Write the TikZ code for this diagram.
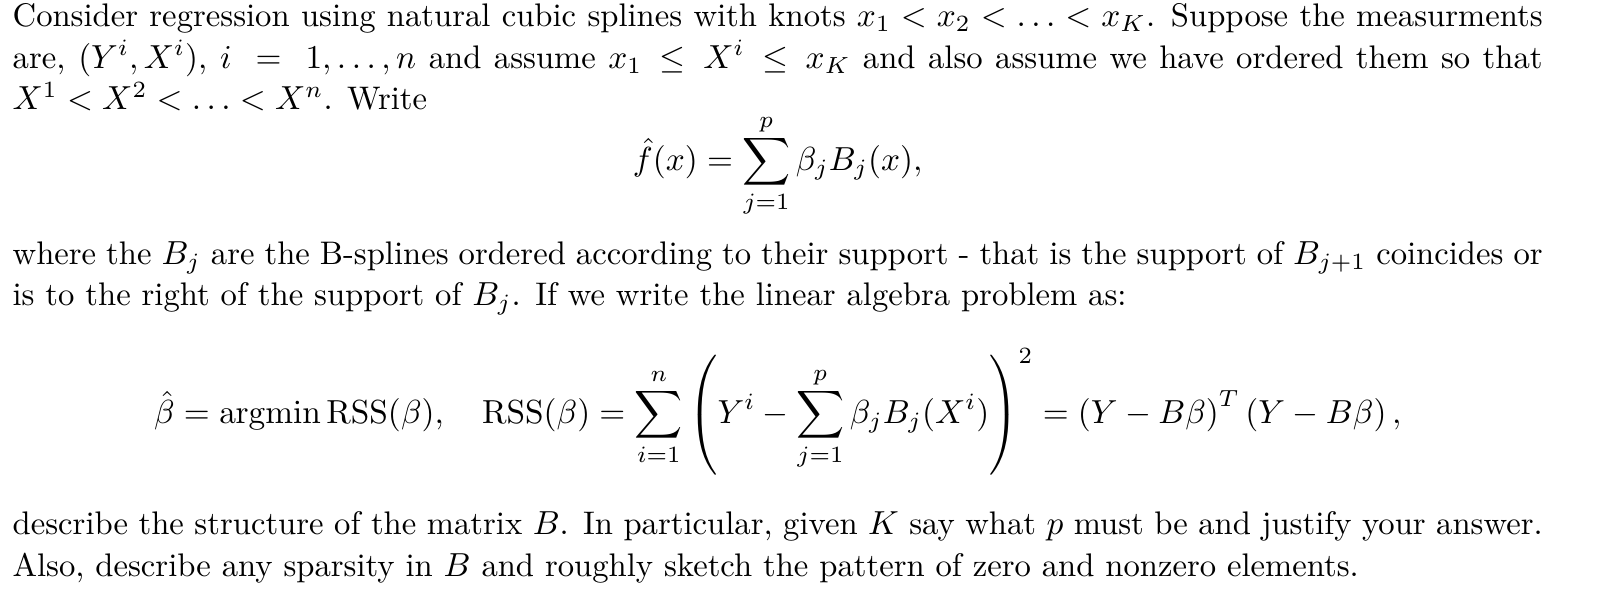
\documentclass[tikz,border=0pt]{standalone}
\usepackage{amsmath}
\begin{document}
\begin{tikzpicture}[x=0.3pt,y=0.3pt]
\useasboundingbox (0,0) rectangle (1608,590);
\node[anchor=north west,inner sep=0pt,text width=459pt,align=justify] (txt) at (12,587) {%
\fontsize{9.8}{12.4}\selectfont\hyphenpenalty=10000\emergencystretch=20pt%
\setlength{\abovedisplayskip}{1pt}\setlength{\belowdisplayskip}{8pt}%
Consider regression using natural cubic splines with knots $x_1<x_2<\ldots<x_K$. Suppose the measurments are, $(Y^i,X^i)$, $i\;=\;1,\ldots,n$ and assume $x_1\,\le\,X^i\,\le\,x_K$ and also assume we have ordered them so that $X^1<X^2<\ldots<X^n$. Write
\[ \hat f(x)=\sum_{j=1}^{p}\beta_jB_j(x), \]
where the $B_j$ are the B-splines ordered according to their support - that is the support of $B_{j+1}$ coincides or is to the right of the support of $B_j$. If we write the linear algebra problem as:
\setlength{\abovedisplayskip}{9pt}\setlength{\belowdisplayskip}{10pt}%
\[ \hat\beta=\operatorname{argmin}\mathrm{RSS}(\beta),\quad \mathrm{RSS}(\beta)=\sum_{i=1}^{n}\left(Y^i-\sum_{j=1}^{p}\beta_jB_j(X^i)\right)^{2}=\left(Y-B\beta\right)^T\left(Y-B\beta\right), \]
describe the structure of the matrix $B$. In particular, given $K$ say what $p$ must be and justify your answer. Also, describe any sparsity in $B$ and roughly sketch the pattern of zero and nonzero elements.\par};
\end{tikzpicture}
\end{document}
